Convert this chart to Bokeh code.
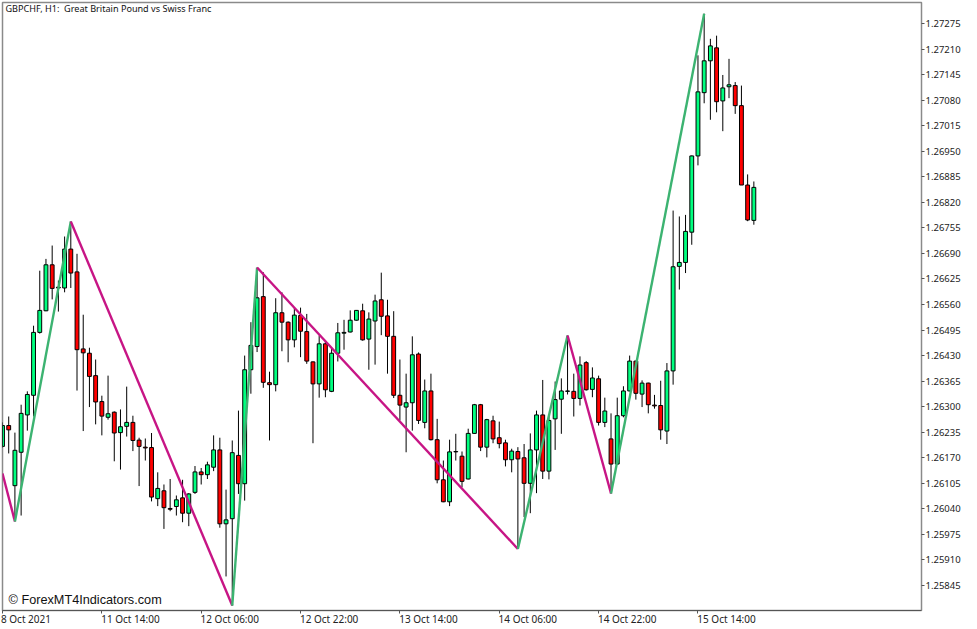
from bokeh.embed import file_html
from bokeh.models import ColumnDataSource, FixedTicker, Label, Range1d
from bokeh.plotting import figure
from bokeh.resources import INLINE

chart_title = "GBPCHF, H1:\u00a0\u00a0Great Britain Pound vs Swiss Franc"
watermark = "\u00a9 ForexMT4Indicators.com"

open_ = [
 1.26199,1.26252,1.26099,1.26184,1.26279,1.26329,1.26489,1.26544,1.26661,1.26604,1.26602,1.26701,1.26643,1.26447,1.26436,1.26379,1.26313,1.26273,1.26286,1.26234,1.26250,1.26260,
 1.26215,1.26197,1.26196,1.26066,1.26086,1.26041,1.26046,1.26068,1.26029,1.26082,1.26134,1.26127,1.26146,1.26190,1.26002,1.26015,1.26176,1.26104,1.26394,1.26453,1.26580,1.26361,
 1.26356,1.26539,1.26515,1.26470,1.26532,1.26491,1.26414,1.26358,1.26460,1.26339,1.26436,1.26487,1.26490,1.26520,1.26544,1.26472,1.26518,1.26572,1.26531,1.26479,1.26329,1.26299,
 1.26310,1.26434,1.26260,1.26340,1.26216,1.26114,1.26058,1.26185,1.26174,1.26116,1.26232,1.26305,1.26197,1.26264,1.26221,1.26208,1.26165,1.26186,1.26170,1.26105,1.26190,1.26279,
 1.26136,1.26269,1.26319,1.26339,1.26339,1.26321,1.26412,1.26344,1.26371,1.26260,1.26218,1.26154,1.26277,1.26340,1.26416,1.26332,1.26360,1.26304,1.26303,1.26238,1.26391,1.26657,
 1.26667,1.26744,1.26938,1.27099,1.27180,1.27213,1.27078,1.27114,1.27117,1.27066,1.26864,1.26774]
high = [
 1.26260,1.26275,1.26234,1.26305,1.26339,1.26506,1.26646,1.26676,1.26710,1.26621,1.26733,1.26771,1.26689,1.26534,1.26450,1.26420,1.26328,1.26379,1.26288,1.26293,1.26351,1.26277,
 1.26221,1.26219,1.26233,1.26133,1.26102,1.26116,1.26074,1.26114,1.26080,1.26149,1.26144,1.26160,1.26227,1.26221,1.26089,1.26214,1.26290,1.26430,1.26515,1.26654,1.26642,1.26389,
 1.26576,1.26591,1.26517,1.26553,1.26552,1.26536,1.26415,1.26481,1.26468,1.26451,1.26513,1.26521,1.26545,1.26546,1.26562,1.26540,1.26585,1.26641,1.26572,1.26543,1.26420,1.26384,
 1.26479,1.26438,1.26369,1.26384,1.26269,1.26163,1.26216,1.26231,1.26186,1.26244,1.26307,1.26307,1.26269,1.26277,1.26262,1.26216,1.26193,1.26197,1.26205,1.26232,1.26290,1.26368,
 1.26277,1.26364,1.26372,1.26481,1.26384,1.26428,1.26416,1.26400,1.26379,1.26323,1.26283,1.26323,1.26352,1.26430,1.26417,1.26367,1.26361,1.26330,1.26366,1.26411,1.26799,1.26784,
 1.26788,1.26939,1.27194,1.27300,1.27236,1.27244,1.27144,1.27185,1.27126,1.27117,1.26891,1.26873]
low = [
 1.26196,1.26181,1.26008,1.26023,1.26239,1.26275,1.26486,1.26543,1.26573,1.26542,1.26591,1.26602,1.26341,1.26238,1.26299,1.26255,1.26227,1.26267,1.26161,1.26140,1.26224,1.26187,
 1.26098,1.26163,1.26059,1.26047,1.25989,1.26034,1.26023,1.26006,1.25996,1.26078,1.26102,1.26116,1.26136,1.25992,1.25868,1.25794,1.26078,1.26061,1.26333,1.26439,1.26348,1.26214,
 1.26339,1.26441,1.26413,1.26451,1.26426,1.26409,1.26207,1.26323,1.26324,1.26337,1.26415,1.26445,1.26489,1.26519,1.26468,1.26394,1.26407,1.26482,1.26384,1.26322,1.26265,1.26184,
 1.26239,1.26256,1.26245,1.26214,1.26105,1.26057,1.26047,1.26163,1.26095,1.26115,1.26231,1.26187,1.26171,1.26207,1.26194,1.26148,1.26133,1.25938,1.26019,1.26029,1.26080,1.26116,
 1.26115,1.26190,1.26231,1.26331,1.26275,1.26303,1.26341,1.26324,1.26252,1.26248,1.26079,1.26153,1.26273,1.26339,1.26318,1.26299,1.26283,1.26295,1.26216,1.26205,1.26356,1.26598,
 1.26640,1.26712,1.26914,1.27072,1.27030,1.27049,1.27001,1.27085,1.27045,1.26864,1.26772,1.26763]
close = [
 1.26252,1.26241,1.26189,1.26283,1.26331,1.26489,1.26545,1.26661,1.26601,1.26602,1.26701,1.26640,1.26445,1.26437,1.26377,1.26312,1.26276,1.26282,1.26233,1.26249,1.26260,1.26214,
 1.26199,1.26195,1.26070,1.26092,1.26043,1.26039,1.26063,1.26029,1.26078,1.26134,1.26127,1.26152,1.26190,1.26002,1.26012,1.26183,1.26104,1.26394,1.26456,1.26577,1.26362,1.26356,
 1.26539,1.26515,1.26470,1.26533,1.26492,1.26416,1.26358,1.26460,1.26343,1.26436,1.26488,1.26489,1.26520,1.26545,1.26470,1.26523,1.26569,1.26530,1.26479,1.26329,1.26304,1.26310,
 1.26432,1.26265,1.26340,1.26216,1.26114,1.26058,1.26185,1.26186,1.26110,1.26232,1.26305,1.26197,1.26267,1.26218,1.26206,1.26165,1.26187,1.26167,1.26105,1.26190,1.26279,1.26136,
 1.26265,1.26318,1.26340,1.26340,1.26321,1.26406,1.26343,1.26373,1.26260,1.26289,1.26154,1.26277,1.26340,1.26416,1.26334,1.26360,1.26305,1.26302,1.26241,1.26391,1.26656,1.26667,
 1.26746,1.26938,1.27101,1.27180,1.27218,1.27076,1.27111,1.27119,1.27066,1.26864,1.26775,1.26858]

zigzag_bars = [0, 2, 11, 37, 41, 83, 91, 98, 113]
zigzag_prices = [1.26130, 1.26008, 1.26771, 1.25794, 1.26654, 1.25938, 1.26481, 1.26079, 1.27300]

price_ticks = [1.25845,1.25910,1.25975,1.26040,1.26105,1.26170,1.26235,1.26300,1.26365,1.26430,1.26495,1.26560,
               1.26625,1.26690,1.26755,1.26820,1.26885,1.26950,1.27015,1.27080,1.27145,1.27210,1.27275]
time_ticks = [0, 16, 32, 48, 64, 80, 96, 112]
time_labels = ["8 Oct 2021","11 Oct 14:00","12 Oct 06:00","12 Oct 22:00","13 Oct 14:00","14 Oct 06:00","14 Oct 22:00","15 Oct 14:00"]

UP, DOWN, GREEN_ZZ, PINK_ZZ = "#00FF7F", "#FF0000", "#3CB371", "#C71585"

n = len(open_)
assert all(len(a) == n for a in (high, low, close))
bars = list(range(n))
colors = [UP if c >= o else DOWN for o, c in zip(open_, close)]
src = ColumnDataSource(dict(x=bars, o=open_, h=high, l=low, c=close, color=colors))

p = figure(width=977, height=629, output_backend="svg", toolbar_location=None,
           x_range=Range1d(0, 148), y_range=Range1d(1.257814, 1.273284),
           x_axis_location="below", y_axis_location="right",
           min_border_left=2, min_border_top=2, min_border_right=56, min_border_bottom=19,
           background_fill_color="white", border_fill_color="white")
p.grid.visible = False
p.outline_line_color = "#8A8A8A"
p.outline_line_width = 1.5

p.segment("x", "h", "x", "l", source=src, line_color="#000000", line_width=1)
p.vbar(x="x", bottom="o", top="c", width=0.62, source=src, fill_color="color", line_color="#000000", line_width=1)

for i in range(len(zigzag_bars) - 1):
    up = zigzag_prices[i + 1] > zigzag_prices[i]
    p.line(zigzag_bars[i:i + 2], zigzag_prices[i:i + 2], line_color=GREEN_ZZ if up else PINK_ZZ, line_width=2.4)

ya = p.yaxis[0]
ya.ticker = FixedTicker(ticks=price_ticks)
ya.major_label_overrides = {t: f"{t:.5f}" for t in price_ticks}
ya.major_tick_in, ya.major_tick_out = 0, 3
ya.minor_tick_in, ya.minor_tick_out = 0, 0
ya.major_label_standoff = 1
ya.axis_line_color = "#8A8A8A"
ya.major_tick_line_color = "#555555"
ya.major_label_text_font = "Noto Sans"
ya.major_label_text_font_size = "9.5px"
ya.major_label_text_color = "#222222"

# The reference starts each date label at its tick: labels sit on major ticks
# moved half a label to the right, the visible tick marks are the minor ticks.
label_at = [t + (3.78 if i == 0 else 4.6) for i, t in enumerate(time_ticks)]
xa = p.xaxis[0]
xa.ticker = FixedTicker(ticks=label_at, minor_ticks=time_ticks)
xa.major_label_overrides = dict(zip(label_at, time_labels))
xa.major_label_standoff = -2
xa.major_label_text_font = "Noto Sans"
xa.major_label_text_font_size = "10px"
xa.major_label_text_color = "#222222"
xa.major_tick_in, xa.major_tick_out = 0, 0
xa.minor_tick_in, xa.minor_tick_out = 0, 3
xa.axis_line_color = "#555555"
xa.minor_tick_line_color = "#555555"

p.add_layout(Label(x=0.48, y=1.27313, text=chart_title, text_font="Noto Sans", text_font_size="9.1px",
                   text_baseline="middle", text_color="#111111"))
p.add_layout(Label(x=0.97, y=1.25807, text=watermark, text_font="Liberation Sans", text_font_size="12.7px",
                   text_baseline="middle", text_color="#111111"))

open("out.html", "w").write(file_html(p, INLINE))
